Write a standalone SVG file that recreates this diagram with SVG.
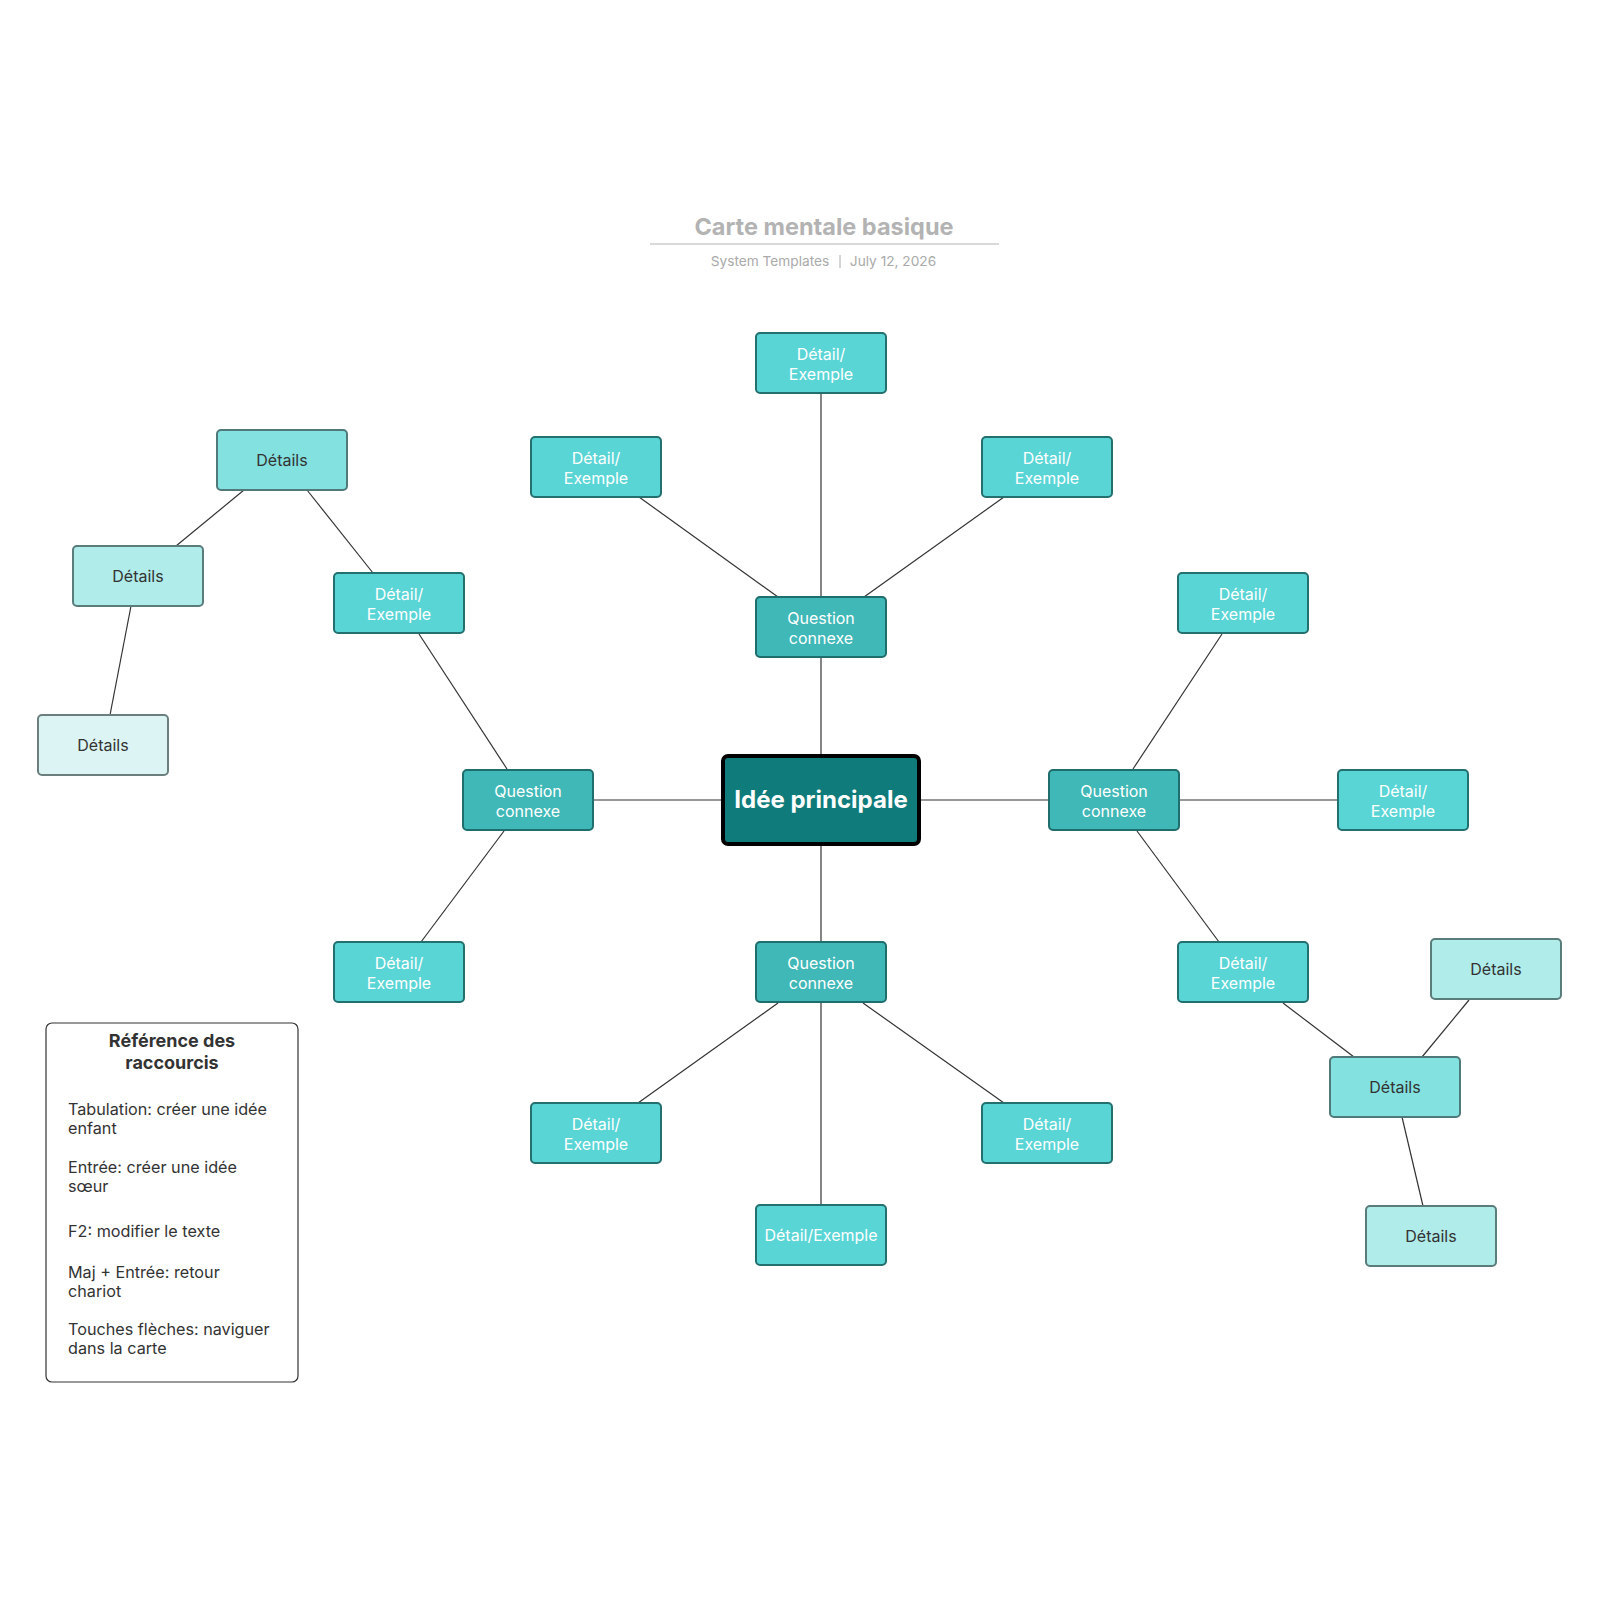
<svg xmlns="http://www.w3.org/2000/svg" width="1600" height="1600" viewBox="0 0 1600 1600">
<style>
text{font-family:Inter,"Noto Sans","Liberation Sans",sans-serif}
.q rect{fill:#3fb8b7;stroke:#1f6d6c;stroke-width:2}
.d rect{fill:#5ad5d6;stroke:#24706f;stroke-width:2}
.l1 rect{fill:#83e1e0;stroke:#4f7a79;stroke-width:2}
.l2 rect{fill:#b0ecea;stroke:#5a7c7b;stroke-width:2}
.l3 rect{fill:#dcf5f4;stroke:#6b7f7e;stroke-width:2}
.w{fill:#fff;font-size:16px;text-anchor:middle}
.k{fill:#333;font-size:16px;text-anchor:middle}
.conn line{stroke:#333;stroke-width:1.2}
.lg{fill:#333;font-size:16.2px}
</style>
<rect width="1600" height="1600" fill="#fff"/>
<g id="title">
<text x="824" y="235" font-size="23.5" font-weight="bold" fill="#b3b3b3" text-anchor="middle">Carte mentale basique</text>
<line x1="650" y1="244" x2="999" y2="244" stroke="#b3b3b3" stroke-width="1.2"/>
<text x="770" y="266" font-size="13.7" fill="#aaa" text-anchor="middle">System Templates</text>
<line x1="840" y1="255" x2="840" y2="268" stroke="#aaa" stroke-width="1"/>
<text x="893" y="266" font-size="13.7" fill="#aaa" text-anchor="middle">July 12, 2026</text>
</g>
<g class="conn" id="connectors">
<line x1="821" y1="393" x2="821" y2="597"/>
<line x1="639" y1="497" x2="778" y2="597"/>
<line x1="1004" y1="497" x2="864" y2="597"/>
<line x1="821" y1="657" x2="821" y2="755"/>
<line x1="593" y1="800" x2="723" y2="800"/>
<line x1="919" y1="800" x2="1049" y2="800"/>
<line x1="821" y1="843" x2="821" y2="942"/>
<line x1="507" y1="769" x2="419" y2="634"/>
<line x1="504" y1="831" x2="421" y2="942"/>
<line x1="373" y1="573" x2="307" y2="490"/>
<line x1="244" y1="490" x2="176" y2="546"/>
<line x1="131" y1="606" x2="110" y2="715"/>
<line x1="1133" y1="769" x2="1222" y2="634"/>
<line x1="1178" y1="800" x2="1338" y2="800"/>
<line x1="1137" y1="831" x2="1219" y2="942"/>
<line x1="1283" y1="1003" x2="1354" y2="1057"/>
<line x1="1422" y1="1057" x2="1469" y2="1000"/>
<line x1="1402" y1="1117" x2="1423" y2="1206"/>
<line x1="778" y1="1003" x2="638" y2="1103"/>
<line x1="863" y1="1003" x2="1004" y2="1103"/>
<line x1="821" y1="1003" x2="821" y2="1205"/>
</g>
<g id="main">
<rect x="723" y="756" width="196" height="88" rx="5" fill="#0f7c7b" stroke="#000" stroke-width="4"/>
<text x="821" y="808" font-size="24" font-weight="bold" fill="#fff" text-anchor="middle">Idée principale</text>
</g>
<g id="q-top" class="q"><rect x="756" y="597" width="130" height="60" rx="4"/><text class="w" x="821" y="624">Question</text><text class="w" x="821" y="644">connexe</text></g>
<g id="q-left" class="q"><rect x="463" y="770" width="130" height="60" rx="4"/><text class="w" x="528" y="797">Question</text><text class="w" x="528" y="817">connexe</text></g>
<g id="q-right" class="q"><rect x="1049" y="770" width="130" height="60" rx="4"/><text class="w" x="1114" y="797">Question</text><text class="w" x="1114" y="817">connexe</text></g>
<g id="q-bottom" class="q"><rect x="756" y="942" width="130" height="60" rx="4"/><text class="w" x="821" y="969">Question</text><text class="w" x="821" y="989">connexe</text></g>
<g id="d-top" class="d"><rect x="756" y="333" width="130" height="60" rx="4"/><text class="w" x="821" y="360">Détail/</text><text class="w" x="821" y="380">Exemple</text></g>
<g id="d-topleft" class="d"><rect x="531" y="437" width="130" height="60" rx="4"/><text class="w" x="596" y="464">Détail/</text><text class="w" x="596" y="484">Exemple</text></g>
<g id="d-topright" class="d"><rect x="982" y="437" width="130" height="60" rx="4"/><text class="w" x="1047" y="464">Détail/</text><text class="w" x="1047" y="484">Exemple</text></g>
<g id="d-leftup" class="d"><rect x="334" y="573" width="130" height="60" rx="4"/><text class="w" x="399" y="600">Détail/</text><text class="w" x="399" y="620">Exemple</text></g>
<g id="d-leftdown" class="d"><rect x="334" y="942" width="130" height="60" rx="4"/><text class="w" x="399" y="969">Détail/</text><text class="w" x="399" y="989">Exemple</text></g>
<g id="d-rightup" class="d"><rect x="1178" y="573" width="130" height="60" rx="4"/><text class="w" x="1243" y="600">Détail/</text><text class="w" x="1243" y="620">Exemple</text></g>
<g id="d-rightmid" class="d"><rect x="1338" y="770" width="130" height="60" rx="4"/><text class="w" x="1403" y="797">Détail/</text><text class="w" x="1403" y="817">Exemple</text></g>
<g id="d-rightdown" class="d"><rect x="1178" y="942" width="130" height="60" rx="4"/><text class="w" x="1243" y="969">Détail/</text><text class="w" x="1243" y="989">Exemple</text></g>
<g id="d-botleft" class="d"><rect x="531" y="1103" width="130" height="60" rx="4"/><text class="w" x="596" y="1130">Détail/</text><text class="w" x="596" y="1150">Exemple</text></g>
<g id="d-botright" class="d"><rect x="982" y="1103" width="130" height="60" rx="4"/><text class="w" x="1047" y="1130">Détail/</text><text class="w" x="1047" y="1150">Exemple</text></g>
<g id="d-bottom" class="d"><rect x="756" y="1205" width="130" height="60" rx="4"/><text class="w" x="821" y="1241">Détail/Exemple</text></g>
<g id="dl-a" class="l1"><rect x="217" y="430" width="130" height="60" rx="4"/><text class="k" x="282" y="466">Détails</text></g>
<g id="dl-b" class="l2"><rect x="73" y="546" width="130" height="60" rx="4"/><text class="k" x="138" y="582">Détails</text></g>
<g id="dl-c" class="l3"><rect x="38" y="715" width="130" height="60" rx="4"/><text class="k" x="103" y="751">Détails</text></g>
<g id="dr-mid" class="l1"><rect x="1330" y="1057" width="130" height="60" rx="4"/><text class="k" x="1395" y="1093">Détails</text></g>
<g id="dr-top" class="l2"><rect x="1431" y="939" width="130" height="60" rx="4"/><text class="k" x="1496" y="975">Détails</text></g>
<g id="dr-bottom" class="l2"><rect x="1366" y="1206" width="130" height="60" rx="4"/><text class="k" x="1431" y="1242">Détails</text></g>
<g id="legend">
<rect x="46" y="1023" width="252" height="359" rx="6" fill="#fff" stroke="#333" stroke-width="1.2"/>
<text x="172" y="1047" font-size="18" font-weight="bold" fill="#333" text-anchor="middle">Référence des</text>
<text x="172" y="1069" font-size="18" font-weight="bold" fill="#333" text-anchor="middle">raccourcis</text>
<text class="lg" x="68" y="1115">Tabulation: créer une idée</text>
<text class="lg" x="68" y="1134">enfant</text>
<text class="lg" x="68" y="1173">Entrée: créer une idée</text>
<text class="lg" x="68" y="1192">sœur</text>
<text class="lg" x="68" y="1237">F2: modifier le texte</text>
<text class="lg" x="68" y="1278">Maj + Entrée: retour</text>
<text class="lg" x="68" y="1297">chariot</text>
<text class="lg" x="68" y="1335">Touches flèches: naviguer</text>
<text class="lg" x="68" y="1354">dans la carte</text>
</g>
</svg>
